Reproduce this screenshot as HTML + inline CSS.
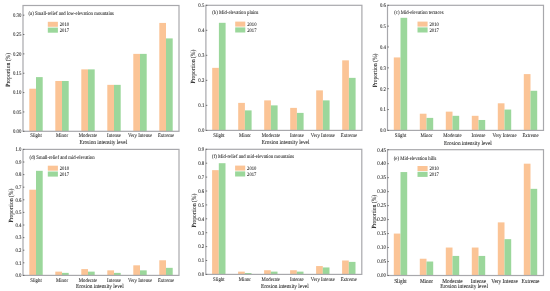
<!DOCTYPE html><html><head><meta charset="utf-8"><style>html,body{margin:0;padding:0;background:#fff;width:550px;height:291px;overflow:hidden}svg{display:block}text{font-family:"Liberation Serif", serif;fill:#222;stroke:#2a2a2a;stroke-width:0.06px;text-rendering:geometricPrecision}</style></head><body>
<svg width="550" height="291" viewBox="0 0 550 291"><defs><filter id="bl" x="-5%" y="-5%" width="110%" height="110%"><feGaussianBlur stdDeviation="0.35"/></filter></defs><g filter="url(#bl)">
<g><rect x="29.30" y="88.72" width="6.70" height="42.58" fill="#fbc496"/><rect x="36.00" y="77.11" width="6.70" height="54.19" fill="#9bd79b"/><text transform="translate(36.00 136.70) scale(1 1.150)" font-size="4.80" text-anchor="middle">Slight</text><rect x="55.30" y="80.98" width="6.70" height="50.32" fill="#fbc496"/><rect x="62.00" y="80.98" width="6.70" height="50.32" fill="#9bd79b"/><text transform="translate(62.00 136.70) scale(1 1.150)" font-size="4.80" text-anchor="middle">Minor</text><rect x="81.30" y="69.37" width="6.70" height="61.93" fill="#fbc496"/><rect x="88.00" y="69.37" width="6.70" height="61.93" fill="#9bd79b"/><text transform="translate(88.00 136.70) scale(1 1.150)" font-size="4.80" text-anchor="middle">Moderate</text><rect x="107.30" y="84.85" width="6.70" height="46.45" fill="#fbc496"/><rect x="114.00" y="84.85" width="6.70" height="46.45" fill="#9bd79b"/><text transform="translate(114.00 136.70) scale(1 1.150)" font-size="4.80" text-anchor="middle">Intense</text><rect x="133.30" y="53.88" width="6.70" height="77.42" fill="#fbc496"/><rect x="140.00" y="53.88" width="6.70" height="77.42" fill="#9bd79b"/><text transform="translate(140.00 136.70) scale(1 1.150)" font-size="4.80" text-anchor="middle">Very Intense</text><rect x="159.30" y="22.92" width="6.70" height="108.38" fill="#fbc496"/><rect x="166.00" y="38.40" width="6.70" height="92.90" fill="#9bd79b"/><text transform="translate(166.00 136.70) scale(1 1.150)" font-size="4.80" text-anchor="middle">Extreme</text><rect x="23.00" y="5.50" width="156.00" height="125.80" fill="none" stroke="#a8a8ac" stroke-width="1.2"/><line x1="23.00" y1="131.30" x2="24.40" y2="131.30" stroke="#555" stroke-width="0.8"/><text transform="translate(21.40 133.10) scale(1 1.150)" font-size="4.80" text-anchor="end">0.00</text><line x1="23.00" y1="111.95" x2="24.40" y2="111.95" stroke="#555" stroke-width="0.8"/><text transform="translate(21.40 113.75) scale(1 1.150)" font-size="4.80" text-anchor="end">0.05</text><line x1="23.00" y1="92.59" x2="24.40" y2="92.59" stroke="#555" stroke-width="0.8"/><text transform="translate(21.40 94.39) scale(1 1.150)" font-size="4.80" text-anchor="end">0.10</text><line x1="23.00" y1="73.24" x2="24.40" y2="73.24" stroke="#555" stroke-width="0.8"/><text transform="translate(21.40 75.04) scale(1 1.150)" font-size="4.80" text-anchor="end">0.15</text><line x1="23.00" y1="53.88" x2="24.40" y2="53.88" stroke="#555" stroke-width="0.8"/><text transform="translate(21.40 55.68) scale(1 1.150)" font-size="4.80" text-anchor="end">0.20</text><line x1="23.00" y1="34.53" x2="24.40" y2="34.53" stroke="#555" stroke-width="0.8"/><text transform="translate(21.40 36.33) scale(1 1.150)" font-size="4.80" text-anchor="end">0.25</text><line x1="23.00" y1="15.18" x2="24.40" y2="15.18" stroke="#555" stroke-width="0.8"/><text transform="translate(21.40 16.98) scale(1 1.150)" font-size="4.80" text-anchor="end">0.30</text><text transform="translate(9.50 69.80) rotate(-90) scale(1 1.150)" font-size="5.60" text-anchor="middle">Proportion (%)</text><text transform="translate(103.30 144.30) scale(1 1.150)" font-size="5.30" text-anchor="middle">Erosion intensity level</text><text transform="translate(28.50 14.70) scale(1 1.150)" font-size="4.75">(a) Small-relief and low-elevation mountains</text><rect x="47.80" y="21.80" width="10.1" height="5.0" fill="#fbc496"/><rect x="47.80" y="27.60" width="10.1" height="5.1" fill="#9bd79b"/><text transform="translate(59.80 26.20) scale(1 1.150)" font-size="4.65">2010</text><text transform="translate(59.80 31.70) scale(1 1.150)" font-size="4.65">2017</text></g>
<g><rect x="212.20" y="67.85" width="6.70" height="62.55" fill="#fbc496"/><rect x="218.90" y="22.81" width="6.70" height="107.59" fill="#9bd79b"/><text transform="translate(218.90 137.20) scale(1 1.150)" font-size="4.80" text-anchor="middle">Slight</text><rect x="238.20" y="102.88" width="6.70" height="27.52" fill="#fbc496"/><rect x="244.90" y="110.38" width="6.70" height="20.02" fill="#9bd79b"/><text transform="translate(244.90 137.20) scale(1 1.150)" font-size="4.80" text-anchor="middle">Minor</text><rect x="264.20" y="100.38" width="6.70" height="30.02" fill="#fbc496"/><rect x="270.90" y="105.38" width="6.70" height="25.02" fill="#9bd79b"/><text transform="translate(270.90 137.20) scale(1 1.150)" font-size="4.80" text-anchor="middle">Moderate</text><rect x="290.20" y="107.88" width="6.70" height="22.52" fill="#fbc496"/><rect x="296.90" y="112.89" width="6.70" height="17.51" fill="#9bd79b"/><text transform="translate(296.90 137.20) scale(1 1.150)" font-size="4.80" text-anchor="middle">Intense</text><rect x="316.20" y="90.37" width="6.70" height="40.03" fill="#fbc496"/><rect x="322.90" y="100.38" width="6.70" height="30.02" fill="#9bd79b"/><text transform="translate(322.90 137.20) scale(1 1.150)" font-size="4.80" text-anchor="middle">Very Intense</text><rect x="342.20" y="60.34" width="6.70" height="70.06" fill="#fbc496"/><rect x="348.90" y="77.86" width="6.70" height="52.54" fill="#9bd79b"/><text transform="translate(348.90 137.20) scale(1 1.150)" font-size="4.80" text-anchor="middle">Extreme</text><rect x="205.90" y="5.30" width="156.00" height="125.10" fill="none" stroke="#a8a8ac" stroke-width="1.2"/><line x1="205.90" y1="130.40" x2="207.30" y2="130.40" stroke="#555" stroke-width="0.8"/><text transform="translate(204.30 132.20) scale(1 1.150)" font-size="4.80" text-anchor="end">0.0</text><line x1="205.90" y1="105.38" x2="207.30" y2="105.38" stroke="#555" stroke-width="0.8"/><text transform="translate(204.30 107.18) scale(1 1.150)" font-size="4.80" text-anchor="end">0.1</text><line x1="205.90" y1="80.36" x2="207.30" y2="80.36" stroke="#555" stroke-width="0.8"/><text transform="translate(204.30 82.16) scale(1 1.150)" font-size="4.80" text-anchor="end">0.2</text><line x1="205.90" y1="55.34" x2="207.30" y2="55.34" stroke="#555" stroke-width="0.8"/><text transform="translate(204.30 57.14) scale(1 1.150)" font-size="4.80" text-anchor="end">0.3</text><line x1="205.90" y1="30.32" x2="207.30" y2="30.32" stroke="#555" stroke-width="0.8"/><text transform="translate(204.30 32.12) scale(1 1.150)" font-size="4.80" text-anchor="end">0.4</text><line x1="205.90" y1="5.30" x2="207.30" y2="5.30" stroke="#555" stroke-width="0.8"/><text transform="translate(204.30 7.10) scale(1 1.150)" font-size="4.80" text-anchor="end">0.5</text><text transform="translate(195.40 66.60) rotate(-90) scale(1 1.150)" font-size="5.60" text-anchor="middle">Proportion (%)</text><text transform="translate(285.60 144.30) scale(1 1.150)" font-size="5.30" text-anchor="middle">Erosion intensity level</text><text transform="translate(212.20 14.10) scale(1 1.150)" font-size="4.75">(b) Mid-elevation plains</text><rect x="235.20" y="21.60" width="10.1" height="5.0" fill="#fbc496"/><rect x="235.20" y="27.40" width="10.1" height="5.1" fill="#9bd79b"/><text transform="translate(247.20 26.00) scale(1 1.150)" font-size="4.65">2010</text><text transform="translate(247.20 31.50) scale(1 1.150)" font-size="4.65">2017</text></g>
<g><rect x="393.80" y="57.43" width="6.70" height="72.97" fill="#fbc496"/><rect x="400.50" y="17.81" width="6.70" height="112.59" fill="#9bd79b"/><text transform="translate(400.50 137.20) scale(1 1.150)" font-size="4.80" text-anchor="middle">Slight</text><rect x="419.80" y="113.72" width="6.70" height="16.68" fill="#fbc496"/><rect x="426.50" y="117.89" width="6.70" height="12.51" fill="#9bd79b"/><text transform="translate(426.50 137.20) scale(1 1.150)" font-size="4.80" text-anchor="middle">Minor</text><rect x="445.80" y="111.64" width="6.70" height="18.76" fill="#fbc496"/><rect x="452.50" y="115.81" width="6.70" height="14.60" fill="#9bd79b"/><text transform="translate(452.50 137.20) scale(1 1.150)" font-size="4.80" text-anchor="middle">Moderate</text><rect x="471.80" y="115.81" width="6.70" height="14.60" fill="#fbc496"/><rect x="478.50" y="119.98" width="6.70" height="10.43" fill="#9bd79b"/><text transform="translate(478.50 137.20) scale(1 1.150)" font-size="4.80" text-anchor="middle">Intense</text><rect x="497.80" y="103.30" width="6.70" height="27.11" fill="#fbc496"/><rect x="504.50" y="109.55" width="6.70" height="20.85" fill="#9bd79b"/><text transform="translate(504.50 137.20) scale(1 1.150)" font-size="4.80" text-anchor="middle">Very Intense</text><rect x="523.80" y="74.10" width="6.70" height="56.30" fill="#fbc496"/><rect x="530.50" y="90.78" width="6.70" height="39.62" fill="#9bd79b"/><text transform="translate(530.50 137.20) scale(1 1.150)" font-size="4.80" text-anchor="middle">Extreme</text><rect x="387.50" y="5.30" width="156.00" height="125.10" fill="none" stroke="#a8a8ac" stroke-width="1.2"/><line x1="387.50" y1="130.40" x2="388.90" y2="130.40" stroke="#555" stroke-width="0.8"/><text transform="translate(385.90 132.20) scale(1 1.150)" font-size="4.80" text-anchor="end">0.0</text><line x1="387.50" y1="109.55" x2="388.90" y2="109.55" stroke="#555" stroke-width="0.8"/><text transform="translate(385.90 111.35) scale(1 1.150)" font-size="4.80" text-anchor="end">0.1</text><line x1="387.50" y1="88.70" x2="388.90" y2="88.70" stroke="#555" stroke-width="0.8"/><text transform="translate(385.90 90.50) scale(1 1.150)" font-size="4.80" text-anchor="end">0.2</text><line x1="387.50" y1="67.85" x2="388.90" y2="67.85" stroke="#555" stroke-width="0.8"/><text transform="translate(385.90 69.65) scale(1 1.150)" font-size="4.80" text-anchor="end">0.3</text><line x1="387.50" y1="47.00" x2="388.90" y2="47.00" stroke="#555" stroke-width="0.8"/><text transform="translate(385.90 48.80) scale(1 1.150)" font-size="4.80" text-anchor="end">0.4</text><line x1="387.50" y1="26.15" x2="388.90" y2="26.15" stroke="#555" stroke-width="0.8"/><text transform="translate(385.90 27.95) scale(1 1.150)" font-size="4.80" text-anchor="end">0.5</text><line x1="387.50" y1="5.30" x2="388.90" y2="5.30" stroke="#555" stroke-width="0.8"/><text transform="translate(385.90 7.10) scale(1 1.150)" font-size="4.80" text-anchor="end">0.6</text><text transform="translate(376.70 70.40) rotate(-90) scale(1 1.150)" font-size="5.60" text-anchor="middle">Proportion (%)</text><text transform="translate(467.90 145.40) scale(1 1.150)" font-size="5.30" text-anchor="middle">Erosion intensity level</text><text transform="translate(394.20 14.15) scale(1 1.150)" font-size="4.75">(c) Mid-elevation terraces</text><rect x="417.50" y="21.60" width="10.1" height="5.0" fill="#fbc496"/><rect x="417.50" y="27.40" width="10.1" height="5.1" fill="#9bd79b"/><text transform="translate(429.50 26.00) scale(1 1.150)" font-size="4.65">2010</text><text transform="translate(429.50 31.50) scale(1 1.150)" font-size="4.65">2017</text></g>
<g><rect x="29.30" y="189.72" width="6.70" height="85.68" fill="#fbc496"/><rect x="36.00" y="170.82" width="6.70" height="104.58" fill="#9bd79b"/><text transform="translate(36.00 281.90) scale(1 1.150)" font-size="4.80" text-anchor="middle">Slight</text><rect x="55.30" y="271.62" width="6.70" height="3.78" fill="#fbc496"/><rect x="62.00" y="272.88" width="6.70" height="2.52" fill="#9bd79b"/><text transform="translate(62.00 281.90) scale(1 1.150)" font-size="4.80" text-anchor="middle">Minor</text><rect x="81.30" y="269.10" width="6.70" height="6.30" fill="#fbc496"/><rect x="88.00" y="271.62" width="6.70" height="3.78" fill="#9bd79b"/><text transform="translate(88.00 281.90) scale(1 1.150)" font-size="4.80" text-anchor="middle">Moderate</text><rect x="107.30" y="270.36" width="6.70" height="5.04" fill="#fbc496"/><rect x="114.00" y="272.88" width="6.70" height="2.52" fill="#9bd79b"/><text transform="translate(114.00 281.90) scale(1 1.150)" font-size="4.80" text-anchor="middle">Intense</text><rect x="133.30" y="265.32" width="6.70" height="10.08" fill="#fbc496"/><rect x="140.00" y="270.36" width="6.70" height="5.04" fill="#9bd79b"/><text transform="translate(140.00 281.90) scale(1 1.150)" font-size="4.80" text-anchor="middle">Very Intense</text><rect x="159.30" y="260.28" width="6.70" height="15.12" fill="#fbc496"/><rect x="166.00" y="267.84" width="6.70" height="7.56" fill="#9bd79b"/><text transform="translate(166.00 281.90) scale(1 1.150)" font-size="4.80" text-anchor="middle">Extreme</text><rect x="23.00" y="149.40" width="156.00" height="126.00" fill="none" stroke="#a8a8ac" stroke-width="1.2"/><line x1="23.00" y1="275.40" x2="24.40" y2="275.40" stroke="#555" stroke-width="0.8"/><text transform="translate(21.40 277.20) scale(1 1.150)" font-size="4.80" text-anchor="end">0.0</text><line x1="23.00" y1="262.80" x2="24.40" y2="262.80" stroke="#555" stroke-width="0.8"/><text transform="translate(21.40 264.60) scale(1 1.150)" font-size="4.80" text-anchor="end">0.1</text><line x1="23.00" y1="250.20" x2="24.40" y2="250.20" stroke="#555" stroke-width="0.8"/><text transform="translate(21.40 252.00) scale(1 1.150)" font-size="4.80" text-anchor="end">0.2</text><line x1="23.00" y1="237.60" x2="24.40" y2="237.60" stroke="#555" stroke-width="0.8"/><text transform="translate(21.40 239.40) scale(1 1.150)" font-size="4.80" text-anchor="end">0.3</text><line x1="23.00" y1="225.00" x2="24.40" y2="225.00" stroke="#555" stroke-width="0.8"/><text transform="translate(21.40 226.80) scale(1 1.150)" font-size="4.80" text-anchor="end">0.4</text><line x1="23.00" y1="212.40" x2="24.40" y2="212.40" stroke="#555" stroke-width="0.8"/><text transform="translate(21.40 214.20) scale(1 1.150)" font-size="4.80" text-anchor="end">0.5</text><line x1="23.00" y1="199.80" x2="24.40" y2="199.80" stroke="#555" stroke-width="0.8"/><text transform="translate(21.40 201.60) scale(1 1.150)" font-size="4.80" text-anchor="end">0.6</text><line x1="23.00" y1="187.20" x2="24.40" y2="187.20" stroke="#555" stroke-width="0.8"/><text transform="translate(21.40 189.00) scale(1 1.150)" font-size="4.80" text-anchor="end">0.7</text><line x1="23.00" y1="174.60" x2="24.40" y2="174.60" stroke="#555" stroke-width="0.8"/><text transform="translate(21.40 176.40) scale(1 1.150)" font-size="4.80" text-anchor="end">0.8</text><line x1="23.00" y1="162.00" x2="24.40" y2="162.00" stroke="#555" stroke-width="0.8"/><text transform="translate(21.40 163.80) scale(1 1.150)" font-size="4.80" text-anchor="end">0.9</text><line x1="23.00" y1="149.40" x2="24.40" y2="149.40" stroke="#555" stroke-width="0.8"/><text transform="translate(21.40 151.20) scale(1 1.150)" font-size="4.80" text-anchor="end">1.0</text><text transform="translate(13.20 205.60) rotate(-90) scale(1 1.150)" font-size="5.60" text-anchor="middle">Proportion (%)</text><text transform="translate(99.80 287.90) scale(1 1.150)" font-size="5.30" text-anchor="middle">Erosion intensity level</text><text transform="translate(29.60 159.20) scale(1 1.150)" font-size="4.75">(d) Small-relief and mid-elevation</text><rect x="47.80" y="165.70" width="10.1" height="5.0" fill="#fbc496"/><rect x="47.80" y="171.50" width="10.1" height="5.1" fill="#9bd79b"/><text transform="translate(59.80 170.10) scale(1 1.150)" font-size="4.65">2010</text><text transform="translate(59.80 175.60) scale(1 1.150)" font-size="4.65">2017</text></g>
<g><rect x="212.10" y="170.15" width="6.70" height="104.25" fill="#fbc496"/><rect x="218.80" y="163.20" width="6.70" height="111.20" fill="#9bd79b"/><text transform="translate(218.80 281.40) scale(1 1.150)" font-size="4.80" text-anchor="middle">Slight</text><rect x="238.10" y="271.62" width="6.70" height="2.78" fill="#fbc496"/><rect x="244.80" y="273.01" width="6.70" height="1.39" fill="#9bd79b"/><text transform="translate(244.80 281.40) scale(1 1.150)" font-size="4.80" text-anchor="middle">Minor</text><rect x="264.10" y="270.23" width="6.70" height="4.17" fill="#fbc496"/><rect x="270.80" y="271.62" width="6.70" height="2.78" fill="#9bd79b"/><text transform="translate(270.80 281.40) scale(1 1.150)" font-size="4.80" text-anchor="middle">Moderate</text><rect x="290.10" y="270.23" width="6.70" height="4.17" fill="#fbc496"/><rect x="296.80" y="271.62" width="6.70" height="2.78" fill="#9bd79b"/><text transform="translate(296.80 281.40) scale(1 1.150)" font-size="4.80" text-anchor="middle">Intense</text><rect x="316.10" y="266.06" width="6.70" height="8.34" fill="#fbc496"/><rect x="322.80" y="267.45" width="6.70" height="6.95" fill="#9bd79b"/><text transform="translate(322.80 281.40) scale(1 1.150)" font-size="4.80" text-anchor="middle">Very Intense</text><rect x="342.10" y="260.50" width="6.70" height="13.90" fill="#fbc496"/><rect x="348.80" y="261.89" width="6.70" height="12.51" fill="#9bd79b"/><text transform="translate(348.80 281.40) scale(1 1.150)" font-size="4.80" text-anchor="middle">Extreme</text><rect x="205.80" y="149.30" width="156.00" height="125.10" fill="none" stroke="#a8a8ac" stroke-width="1.2"/><line x1="205.80" y1="274.40" x2="207.20" y2="274.40" stroke="#555" stroke-width="0.8"/><text transform="translate(204.20 276.20) scale(1 1.150)" font-size="4.80" text-anchor="end">0.0</text><line x1="205.80" y1="260.50" x2="207.20" y2="260.50" stroke="#555" stroke-width="0.8"/><text transform="translate(204.20 262.30) scale(1 1.150)" font-size="4.80" text-anchor="end">0.1</text><line x1="205.80" y1="246.60" x2="207.20" y2="246.60" stroke="#555" stroke-width="0.8"/><text transform="translate(204.20 248.40) scale(1 1.150)" font-size="4.80" text-anchor="end">0.2</text><line x1="205.80" y1="232.70" x2="207.20" y2="232.70" stroke="#555" stroke-width="0.8"/><text transform="translate(204.20 234.50) scale(1 1.150)" font-size="4.80" text-anchor="end">0.3</text><line x1="205.80" y1="218.80" x2="207.20" y2="218.80" stroke="#555" stroke-width="0.8"/><text transform="translate(204.20 220.60) scale(1 1.150)" font-size="4.80" text-anchor="end">0.4</text><line x1="205.80" y1="204.90" x2="207.20" y2="204.90" stroke="#555" stroke-width="0.8"/><text transform="translate(204.20 206.70) scale(1 1.150)" font-size="4.80" text-anchor="end">0.5</text><line x1="205.80" y1="191.00" x2="207.20" y2="191.00" stroke="#555" stroke-width="0.8"/><text transform="translate(204.20 192.80) scale(1 1.150)" font-size="4.80" text-anchor="end">0.6</text><line x1="205.80" y1="177.10" x2="207.20" y2="177.10" stroke="#555" stroke-width="0.8"/><text transform="translate(204.20 178.90) scale(1 1.150)" font-size="4.80" text-anchor="end">0.7</text><line x1="205.80" y1="163.20" x2="207.20" y2="163.20" stroke="#555" stroke-width="0.8"/><text transform="translate(204.20 165.00) scale(1 1.150)" font-size="4.80" text-anchor="end">0.8</text><line x1="205.80" y1="149.30" x2="207.20" y2="149.30" stroke="#555" stroke-width="0.8"/><text transform="translate(204.20 151.10) scale(1 1.150)" font-size="4.80" text-anchor="end">0.9</text><text transform="translate(196.00 210.60) rotate(-90) scale(1 1.150)" font-size="5.60" text-anchor="middle">Proportion (%)</text><text transform="translate(284.80 287.80) scale(1 1.150)" font-size="5.30" text-anchor="middle">Erosion intensity level</text><text transform="translate(212.10 158.10) scale(1 1.150)" font-size="4.75">(f) Mid-relief and mid-elevation mountains</text><rect x="235.10" y="165.60" width="10.1" height="5.0" fill="#fbc496"/><rect x="235.10" y="171.40" width="10.1" height="5.1" fill="#9bd79b"/><text transform="translate(247.10 170.00) scale(1 1.150)" font-size="4.65">2010</text><text transform="translate(247.10 175.50) scale(1 1.150)" font-size="4.65">2017</text></g>
<g><rect x="393.80" y="233.57" width="6.70" height="41.93" fill="#fbc496"/><rect x="400.50" y="172.06" width="6.70" height="103.44" fill="#9bd79b"/><text transform="translate(400.50 282.80) scale(1 1.150)" font-size="5.30" text-anchor="middle">Slight</text><rect x="419.80" y="258.73" width="6.70" height="16.77" fill="#fbc496"/><rect x="426.50" y="261.52" width="6.70" height="13.98" fill="#9bd79b"/><text transform="translate(426.50 282.80) scale(1 1.150)" font-size="5.30" text-anchor="middle">Minor</text><rect x="445.80" y="247.54" width="6.70" height="27.96" fill="#fbc496"/><rect x="452.50" y="255.93" width="6.70" height="19.57" fill="#9bd79b"/><text transform="translate(452.50 282.80) scale(1 1.150)" font-size="5.30" text-anchor="middle">Moderate</text><rect x="471.80" y="247.54" width="6.70" height="27.96" fill="#fbc496"/><rect x="478.50" y="255.93" width="6.70" height="19.57" fill="#9bd79b"/><text transform="translate(478.50 282.80) scale(1 1.150)" font-size="5.30" text-anchor="middle">Intense</text><rect x="497.80" y="222.38" width="6.70" height="53.12" fill="#fbc496"/><rect x="504.50" y="239.16" width="6.70" height="36.34" fill="#9bd79b"/><text transform="translate(504.50 282.80) scale(1 1.150)" font-size="5.30" text-anchor="middle">Very Intense</text><rect x="523.80" y="163.68" width="6.70" height="111.82" fill="#fbc496"/><rect x="530.50" y="188.84" width="6.70" height="86.66" fill="#9bd79b"/><text transform="translate(530.50 282.80) scale(1 1.150)" font-size="5.30" text-anchor="middle">Extreme</text><rect x="387.50" y="149.70" width="156.00" height="125.80" fill="none" stroke="#a8a8ac" stroke-width="1.2"/><line x1="387.50" y1="275.50" x2="388.90" y2="275.50" stroke="#555" stroke-width="0.8"/><text transform="translate(385.90 277.30) scale(1 1.150)" font-size="5.00" text-anchor="end">0.00</text><line x1="387.50" y1="261.52" x2="388.90" y2="261.52" stroke="#555" stroke-width="0.8"/><text transform="translate(385.90 263.32) scale(1 1.150)" font-size="5.00" text-anchor="end">0.05</text><line x1="387.50" y1="247.54" x2="388.90" y2="247.54" stroke="#555" stroke-width="0.8"/><text transform="translate(385.90 249.34) scale(1 1.150)" font-size="5.00" text-anchor="end">0.10</text><line x1="387.50" y1="233.57" x2="388.90" y2="233.57" stroke="#555" stroke-width="0.8"/><text transform="translate(385.90 235.37) scale(1 1.150)" font-size="5.00" text-anchor="end">0.15</text><line x1="387.50" y1="219.59" x2="388.90" y2="219.59" stroke="#555" stroke-width="0.8"/><text transform="translate(385.90 221.39) scale(1 1.150)" font-size="5.00" text-anchor="end">0.20</text><line x1="387.50" y1="205.61" x2="388.90" y2="205.61" stroke="#555" stroke-width="0.8"/><text transform="translate(385.90 207.41) scale(1 1.150)" font-size="5.00" text-anchor="end">0.25</text><line x1="387.50" y1="191.63" x2="388.90" y2="191.63" stroke="#555" stroke-width="0.8"/><text transform="translate(385.90 193.43) scale(1 1.150)" font-size="5.00" text-anchor="end">0.30</text><line x1="387.50" y1="177.66" x2="388.90" y2="177.66" stroke="#555" stroke-width="0.8"/><text transform="translate(385.90 179.46) scale(1 1.150)" font-size="5.00" text-anchor="end">0.35</text><line x1="387.50" y1="163.68" x2="388.90" y2="163.68" stroke="#555" stroke-width="0.8"/><text transform="translate(385.90 165.48) scale(1 1.150)" font-size="5.00" text-anchor="end">0.40</text><line x1="387.50" y1="149.70" x2="388.90" y2="149.70" stroke="#555" stroke-width="0.8"/><text transform="translate(385.90 151.50) scale(1 1.150)" font-size="5.00" text-anchor="end">0.45</text><text transform="translate(375.60 211.70) rotate(-90) scale(1 1.150)" font-size="5.60" text-anchor="middle">Proportion (%)</text><text transform="translate(464.10 288.00) scale(1 1.150)" font-size="5.30" text-anchor="middle">Erosion intensity level</text><text transform="translate(393.70 159.70) scale(1 1.150)" font-size="4.75">(e) Mid-elevation hills</text><rect x="417.50" y="166.00" width="10.1" height="5.0" fill="#fbc496"/><rect x="417.50" y="171.80" width="10.1" height="5.1" fill="#9bd79b"/><text transform="translate(429.50 170.40) scale(1 1.150)" font-size="4.65">2010</text><text transform="translate(429.50 175.90) scale(1 1.150)" font-size="4.65">2017</text></g>
</g></svg></body></html>
